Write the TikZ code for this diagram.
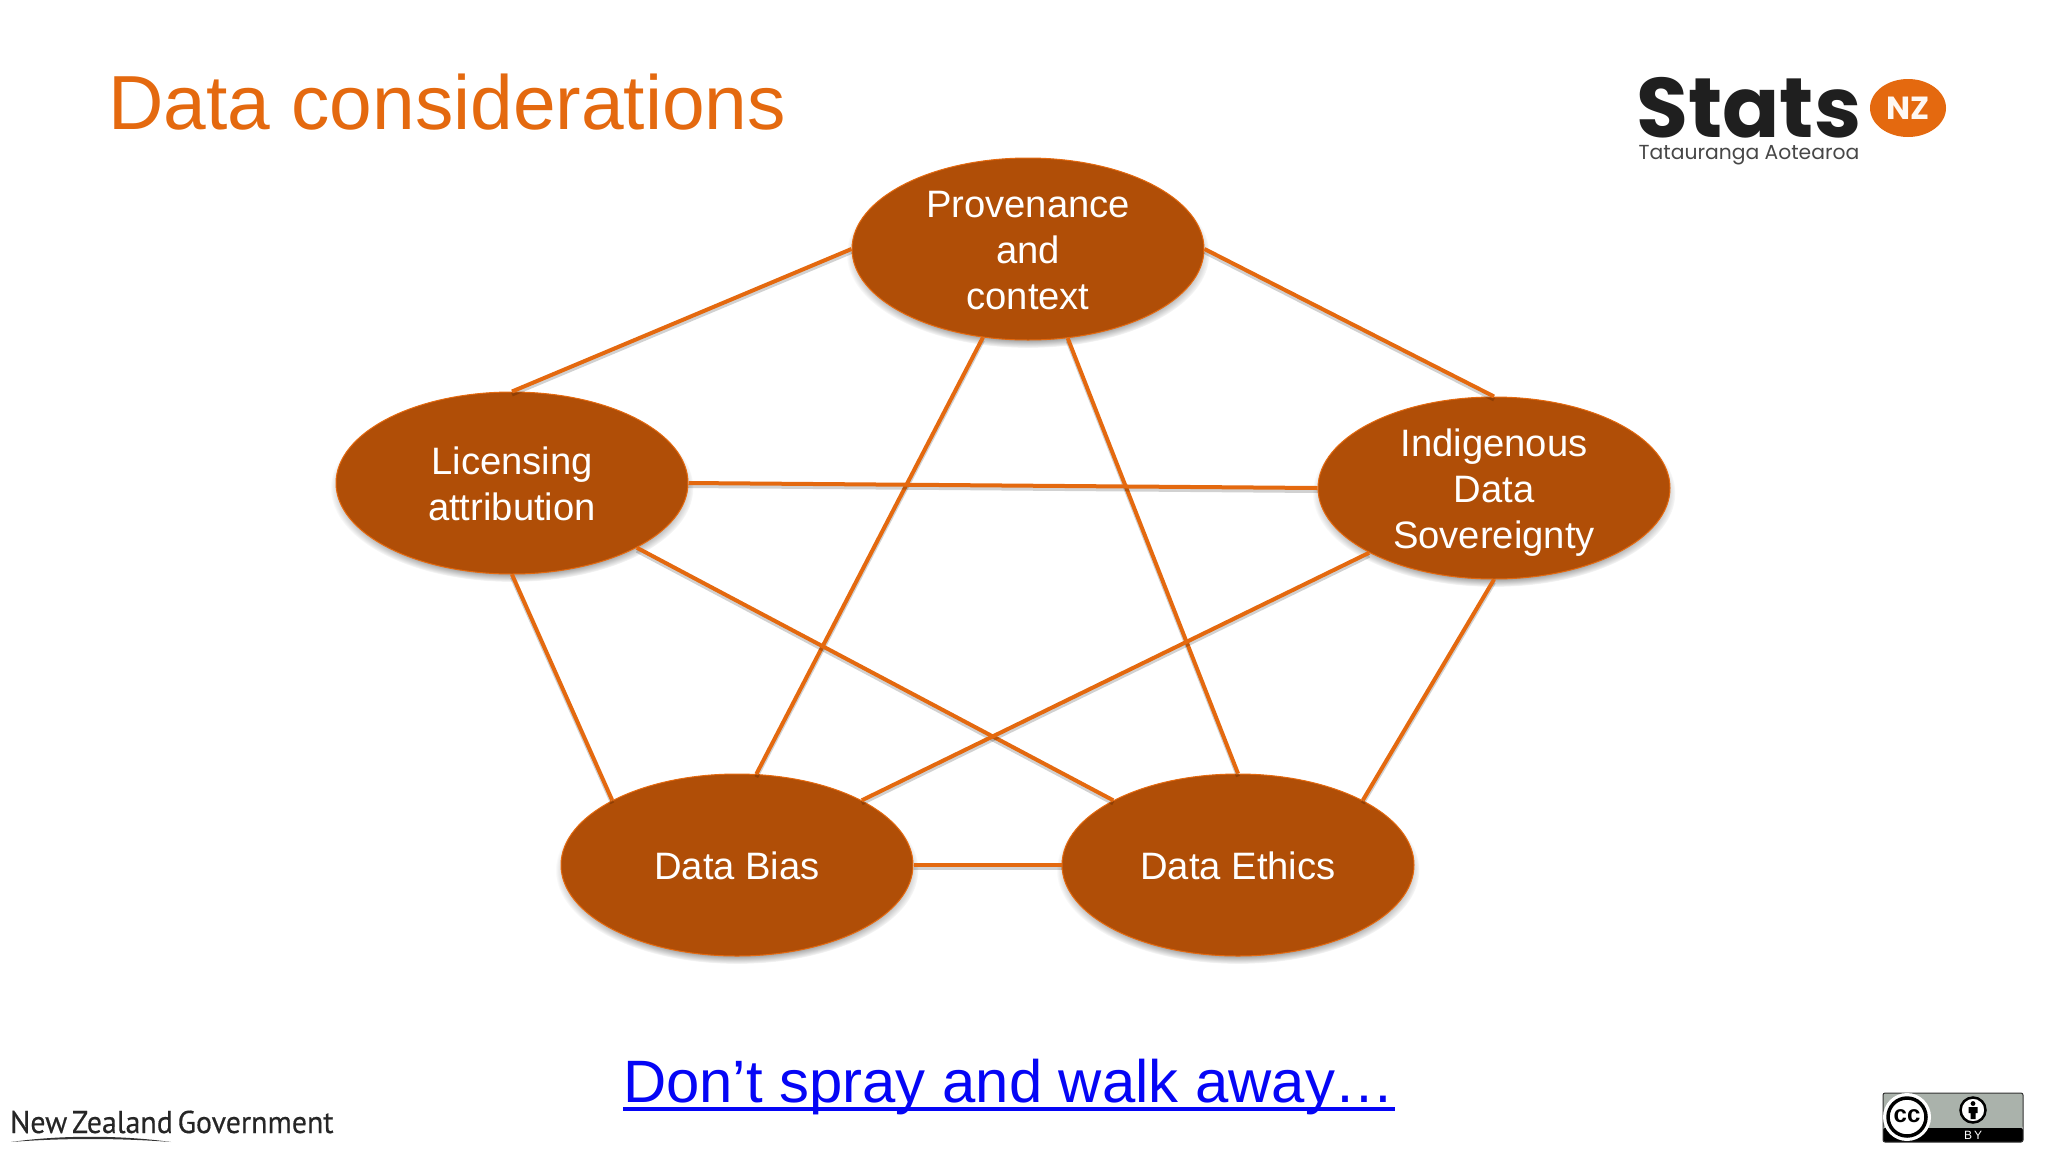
\documentclass[tikz,border=0pt]{standalone}
\usepackage{fontspec}
\usepackage{xcolor}
\usetikzlibrary{shapes.geometric,shadows}
\setmainfont{Liberation Sans}
\newfontfamily\logofont{Poppins}
\newfontfamily\govfont[FakeBold=0.4,WordSpace=0.6]{PT Sans}
\newcommand\rowtop{\rule{0pt}{37pt}}
\newcommand\rowlow{\rule[-9pt]{0pt}{9pt}}

\begin{document}
\begin{tikzpicture}[x=1pt,y=-1pt,
  topic/.style={ellipse,minimum width=352pt,minimum height=182pt,inner xsep=0pt,inner ysep=-14pt,
    fill=rust,draw=ember,line width=1pt,text=white,align=center,
    font=\fontsize{38.2}{46}\selectfont,
    circular drop shadow={shadow xshift=0pt,shadow yshift=-5pt,shadow scale=1.03,opacity=.6,fill=black}},
  link/.style={draw=ember,line width=4pt,
    preaction={draw=black,opacity=.18,line width=4pt,transform canvas={yshift=-3pt}}},
  plain/.style={inner sep=0pt,anchor=base west}]
\definecolor{rust}{HTML}{B04E07}
\definecolor{ember}{HTML}{E4690F}
\definecolor{hyper}{HTML}{0505F5}
\definecolor{ccgrey}{HTML}{AAB2AB}
\useasboundingbox (0,0) rectangle (2048,1152);
\node [plain,text=ember,font=\fontsize{76.7}{80}\selectfont] (title) at (108,129) {Data considerations};
\node [topic] (prov) at (1028,249) {\rowtop Provenance\\and\\context\rowlow};
\node [topic] (lic) at (512,483) {\rowtop Licensing\\attribution\rowlow};
\node [topic] (ind) at (1494,488) {\rowtop Indigenous\\Data\\Sovereignty\rowlow};
\node [topic] (bias) at (737,865) {\rowtop Data Bias\rowlow};
\node [topic] (eth) at (1238,865) {\rowtop Data Ethics\rowlow};
  \foreach \from/\to in {prov.west/lic.north,prov.east/ind.north,prov.243/bias.78,prov.294/eth.north,
    lic.east/ind.west,lic.south east/eth.north west,lic.south/bias.north west,
    ind.south west/bias.north east,ind.south/eth.north east,bias.east/eth.west}
  {  \draw [link] (\from) -- (\to);}
\node [plain,text=hyper,font=\fontsize{59.85}{64}\selectfont] (spray) at (623,1102) {Don’t spray and walk away…};
\draw [hyper,line width=3.2pt] ([yshift=-7pt]spray.base west) -- ([yshift=-7pt]spray.base east);
% Stats NZ
\node [plain,text=black!88,font=\logofont\bfseries\fontsize{84.5}{86}\selectfont] (stats) at (1636,137) {Stats};
\node [plain,text=black!72,font=\logofont\fontsize{20.3}{22}\selectfont] (tata) at (1638.5,159.5) {Tatauranga Aotearoa};
\node [ellipse,fill=ember,minimum width=76pt,minimum height=58pt,inner sep=0pt,text=white!95!ember,font=\logofont\bfseries\fontsize{32}{32}\selectfont] (nz) at (1908,108) {NZ};
% government
\node [plain,text=black!85,xscale=.95,font=\govfont\fontsize{31.5}{34}\selectfont] (gov) at (10,1133) {New Zealand Government};
\fill [black!80] (11,1142) .. controls (60,1135) and (120,1135) .. (171,1142) .. controls (120,1138) and (60,1138) .. (11,1142) -- cycle;
% licence badge
\fill [ccgrey,rounded corners=2pt] (1883,1093) rectangle (2023,1128);
\fill [black,rounded corners=2pt] (1883,1128) rectangle (2023,1142);
\draw [black!80,line width=1pt,rounded corners=2pt] (1883,1093) rectangle (2023,1142);
\fill [white] (1907,1117) circle (24);
\node [circle,draw=black,line width=3.5pt,fill=white,minimum size=38pt,inner sep=0pt,font=\bfseries\fontsize{24}{24}\selectfont] (cc) at (1907,1117) {\raisebox{2pt}{cc}};
\node [circle,draw=black,line width=2.5pt,fill=white,minimum size=25pt,inner sep=0pt] (info) at (1973,1110) {};
\fill [black] (1973,1103.5) circle (2.4);
\fill [black] (1968.5,1107) rectangle (1977.5,1113) (1970.5,1113) rectangle (1975.5,1119);
\node [text=white,font=\fontsize{12}{12}\selectfont,inner sep=0pt] (by) at (1973,1135) {B\,Y};
\end{tikzpicture}
\end{document}
